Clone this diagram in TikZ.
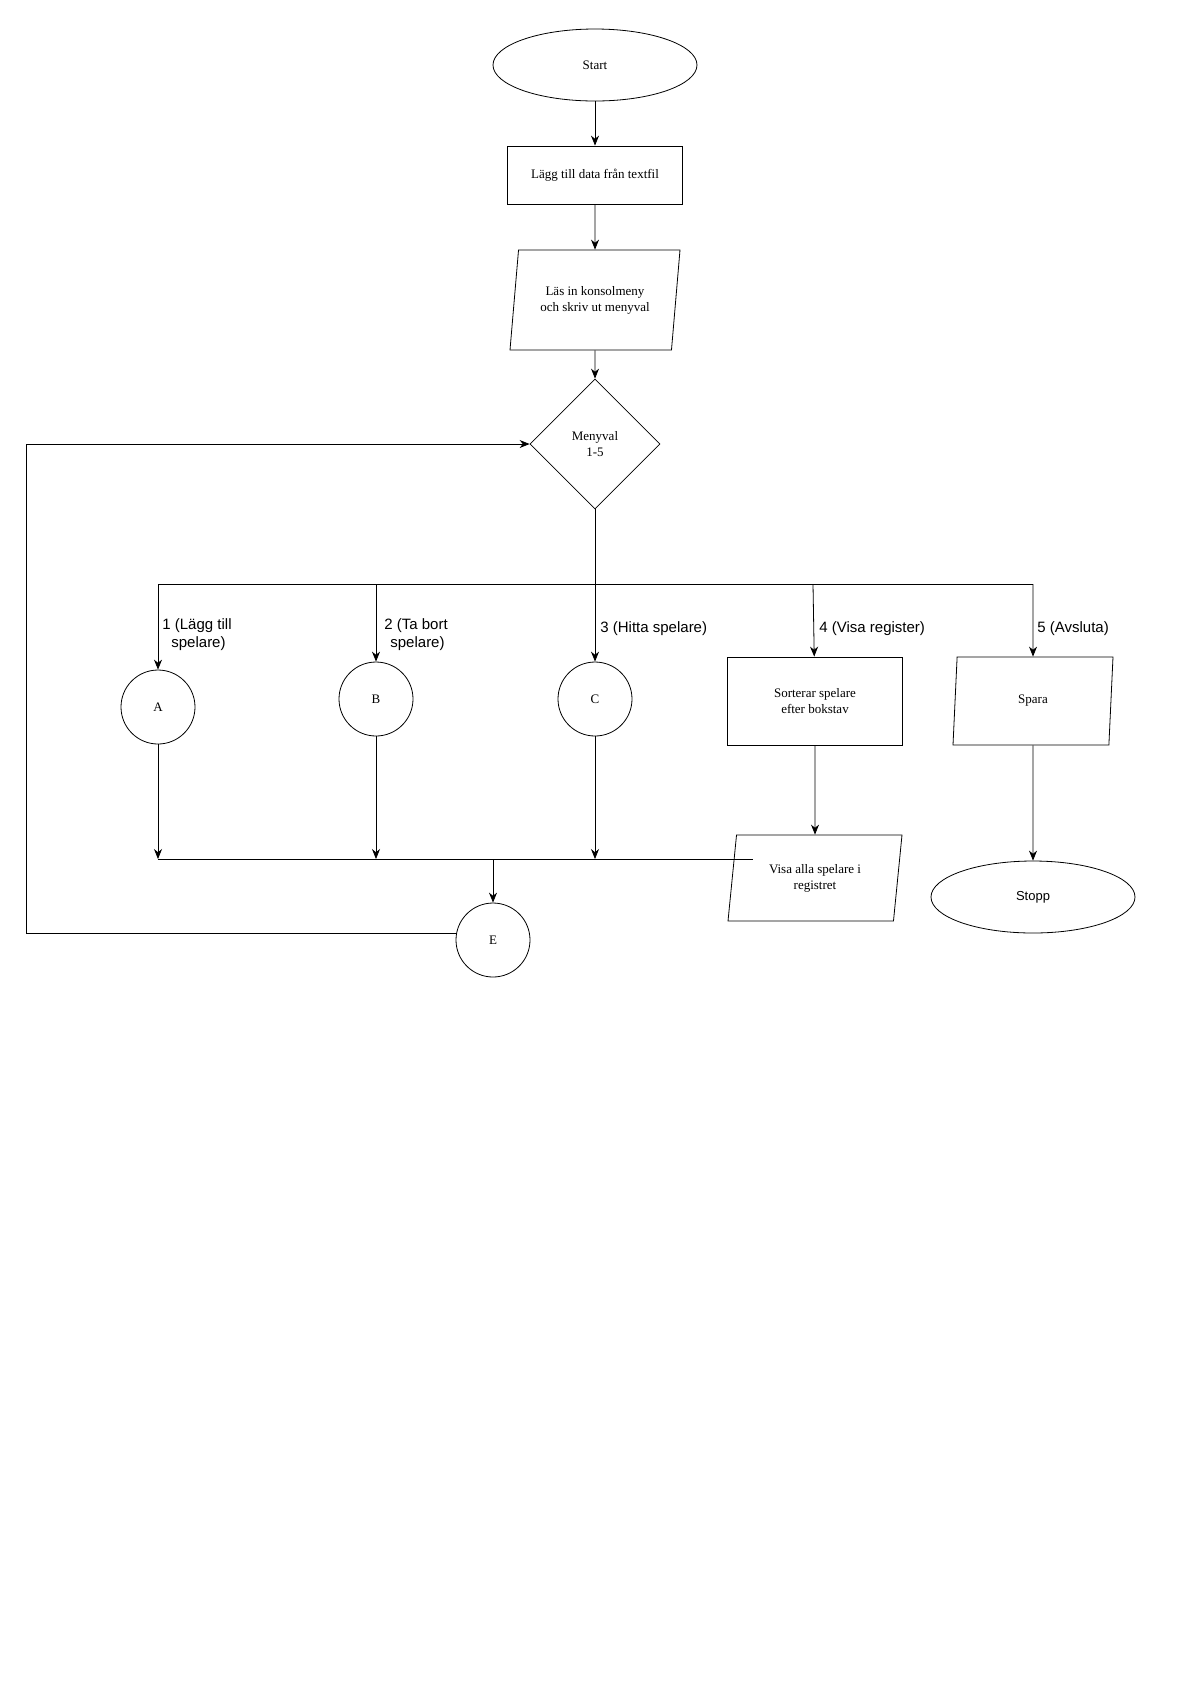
\documentclass[tikz,border=0pt]{standalone}
\usepackage{fontspec}
\setmainfont{Liberation Serif}
\newfontfamily\lab{Liberation Sans}
\usetikzlibrary{shapes.geometric,arrows.meta}
\begin{document}
\begin{tikzpicture}[x=0.5pt,y=-0.5pt,
  base/.style={draw,thin,font=\fontsize{6.5}{8}\selectfont,align=center,inner sep=1pt},
  term/.style={base,ellipse,minimum width=102pt,minimum height=36pt},
  proc/.style={base,rectangle},
  io/.style={base,trapezium,trapezium left angle=75,trapezium right angle=105,trapezium stretches body},
  conn/.style={base,circle,minimum size=37pt},
  dec/.style={base,diamond,minimum width=65pt,minimum height=65pt,aspect=1},
  arr/.style={-{Stealth[length=5pt,width=4pt]},thin},
  ln/.style={thin},
  lb/.style={font=\lab\fontsize{7.5}{9}\selectfont,align=left,anchor=north west,inner sep=1pt}]
\useasboundingbox (0,0) rectangle (1200,1699);
\node[term] (start) at (595,65) {Start};
\node[proc,minimum width=87.5pt,minimum height=29pt] (load) at (595,175) {Lägg till data från textfil};
\node[io,minimum width=85pt,minimum height=50pt] (read) at (595,300) {Läs in konsolmeny\\och skriv ut menyval};
\node[dec] (menu) at (595,444) {Menyval\\1-5};
\coordinate (b0) at (595,584);
\coordinate (b1) at (158,584);
\coordinate (b2) at (376,584);
\coordinate (b4) at (813,584);
\coordinate (b5) at (1033,584);
\node[conn] (A) at (158,707) {A};
\node[conn] (B) at (376,699) {B};
\node[conn] (C) at (595,699) {C};
\node[proc,minimum width=87.5pt,minimum height=44pt] (sort) at (815,701) {Sorterar spelare\\efter bokstav};
\node[io,minimum width=80pt,minimum height=44pt] (spara) at (1033,701) {Spara};
\node[io,minimum width=87pt,minimum height=43pt] (visa) at (815,878) {Visa alla spelare i\\registret};
\node[term] (stopp) at (1033,897) {\lab Stopp};
\node[conn] (E) at (493,940) {E};
\coordinate (mA) at (158,859);
\coordinate (mB) at (376,859);
\coordinate (mC) at (595,859);
\coordinate (mE) at (493,859);
\coordinate (mV) at (753,859);
\coordinate (l1) at (26,933);
\coordinate (l2) at (26,444);
\draw[arr] (start) -- (load);
\draw[arr] (load) -- (read);
\draw[arr] (read) -- (menu);
\draw[ln] (menu.south) -- (b0);
\draw[ln] (b1) -- (b5);
\draw[arr] (b1) -- (A);
\draw[arr] (b2) -- (B);
\draw[arr] (b0) -- (C);
\draw[arr] (b4) -- (sort);
\draw[arr] (b5) -- (spara);
\draw[arr] (sort) -- (visa);
\draw[arr] (spara) -- (stopp);
\draw[arr] (A) -- (mA);
\draw[arr] (B) -- (mB);
\draw[arr] (C) -- (mC);
\draw[ln] (mA) -- (mV);
\draw[arr] (mE) -- (E);
\draw[arr] (E.west |- l1) -- (l1) -- (l2) -- (menu.west);
\node[lb] (t1) at (160,616) {1 (Lägg till\\\hspace*{0.6em}spelare)};
\node[lb] (t2) at (382,616) {2 (Ta bort\\\hspace*{0.4em}spelare)};
\node[lb] (t3) at (598,619) {3 (Hitta spelare)};
\node[lb] (t4) at (817,619) {4 (Visa register)};
\node[lb] (t5) at (1035,619) {5 (Avsluta)};
\end{tikzpicture}
\end{document}
